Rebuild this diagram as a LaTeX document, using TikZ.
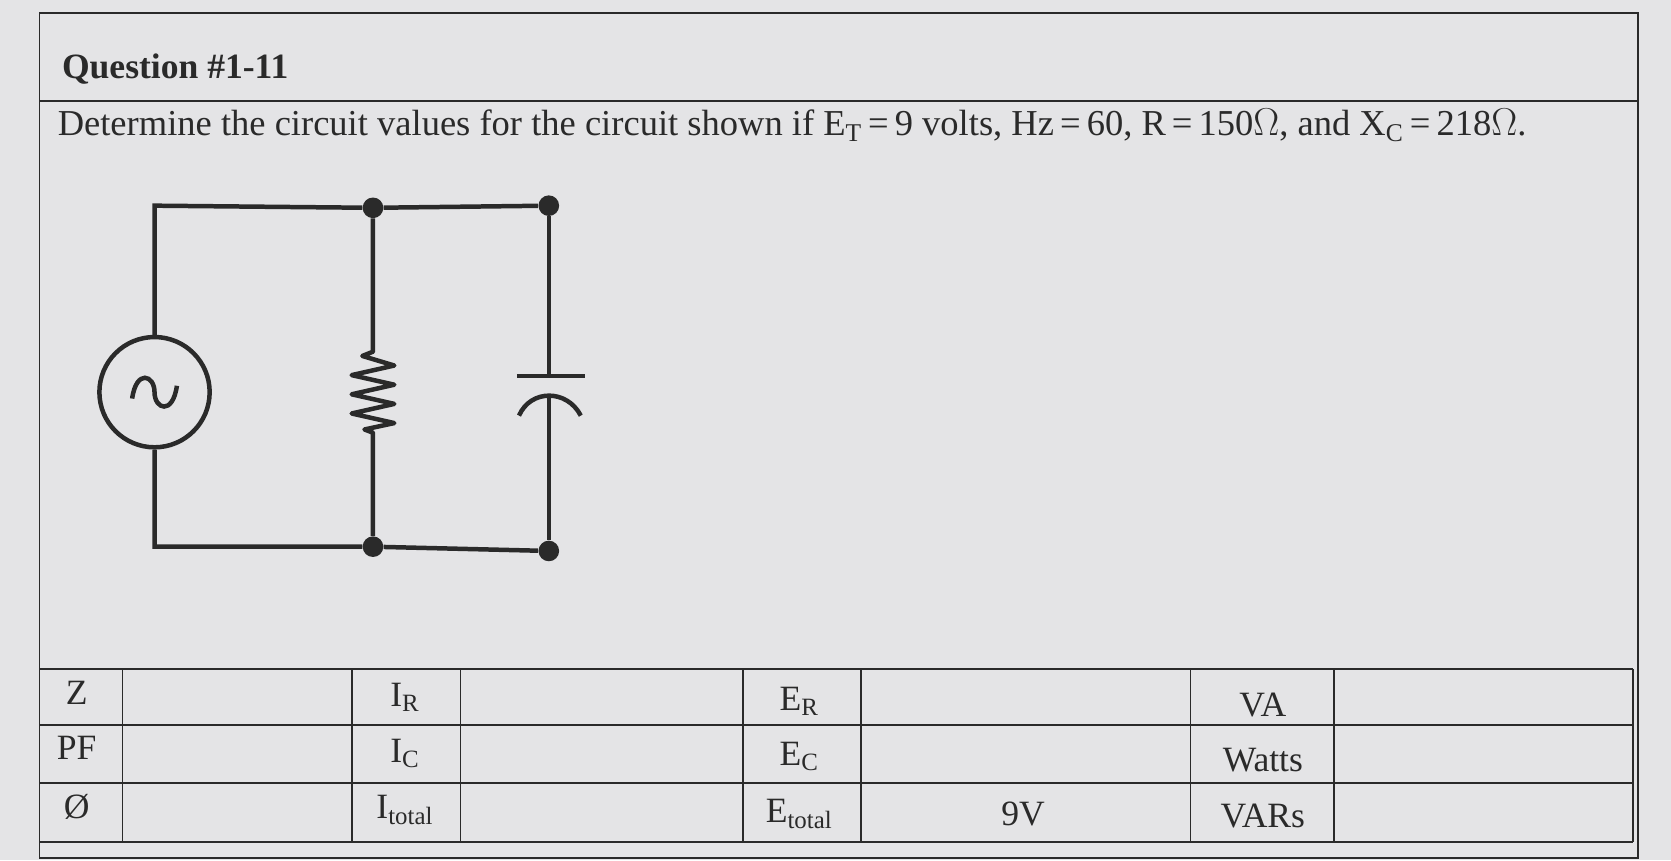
\documentclass[tikz,border=0pt]{standalone}
\usepackage{fontspec}
\setmainfont{Liberation Serif}
\definecolor{bg}{HTML}{E4E4E6}
\definecolor{ln}{HTML}{2A2A2A}
\begin{document}
\begin{tikzpicture}[x=0.02cm,y=-0.02cm,
  wire/.style={line width=2.4pt,ln},
  grid/.style={line width=0.9pt,ln},
  dot/.style={circle,fill=ln,inner sep=0pt,minimum size=11pt},
  lbl/.style={font=\fontsize{19}{21}\selectfont,text=ln}]
\fill[bg] (0,0) rectangle (1568,807);
\useasboundingbox (0,0) rectangle (1568,807);
% frame
\draw[grid] (37,12) rectangle (1537,805);
\draw[grid] (37,95) -- (1537,95);
\node[lbl,anchor=west,font=\bfseries\fontsize{19}{21}\selectfont] (title) at (52,65) {Question \#1-11};
\node[lbl,anchor=west,font=\fontsize{19.5}{21}\selectfont] (stmt) at (48,118) {Determine the circuit values for the circuit shown if E\textsubscript{T}\,=\,9 volts, Hz\,=\,60, R\,=\,150\(\Omega\), and X\textsubscript{C}\,=\,218\(\Omega\).};
% circuit
\coordinate (tl) at (145,193); \coordinate (bl) at (145,513);
\node[dot] (tm) at (350,195) {}; \node[dot] (bm) at (350,513) {};
\node[dot] (tr) at (515,193) {}; \node[dot] (br) at (515,517) {};
\node[draw=ln,line width=2.4pt,circle,minimum size=2.07cm] (src) at (145,368) {};
\draw[wire] (src.north) -- (tl) -- (tm) -- (tr);
\draw[wire] (src.south) -- (bl) -- (bm) -- (br);
\draw[wire] (124,374) .. controls (128,346) and (145,352) .. (145,368) .. controls (145,384) and (162,390) .. (166,362);
% resistor
\draw[wire,line join=round] (tm) -- (350,330) -- (340,334) -- (370,343) -- (330,352) -- (370,361) -- (330,370) -- (370,379) -- (330,388) -- (370,397) -- (342,403) -- (350,406) -- (bm);
% capacitor
\draw[wire] (tr) -- (515,353);
\draw[wire] (485,353) -- (549,353);
\draw[wire] (487,390) .. controls (498,365) and (532,365) .. (545,390);
\draw[wire] (515,372) -- (br);
% table
\foreach \y in {628,680,735,790} \draw[grid] (37,\y) -- (1532,\y);
\foreach \x in {37,115,330,432,697,808,1117,1252,1532} \draw[grid] (\x,628) -- (\x,790);
\node[lbl] (z) at (72,650) {Z};
\node[lbl] (pf) at (72,702) {PF};
\node[lbl] (phi) at (72,757) {Ø};
\node[lbl] (ir) at (380,654) {I\textsubscript{R}};
\node[lbl] (ic) at (380,707) {I\textsubscript{C}};
\node[lbl] (it) at (380,760) {I\textsubscript{total}};
\node[lbl] (er) at (750,658) {E\textsubscript{R}};
\node[lbl] (ec) at (750,710) {E\textsubscript{C}};
\node[lbl] (et) at (750,764) {E\textsubscript{total}};
\node[lbl] (nv) at (960,764) {9V};
\node[lbl] (va) at (1185,662) {VA};
\node[lbl] (w) at (1185,713) {Watts};
\node[lbl] (vr) at (1185,766) {VARs};
\end{tikzpicture}
\end{document}
